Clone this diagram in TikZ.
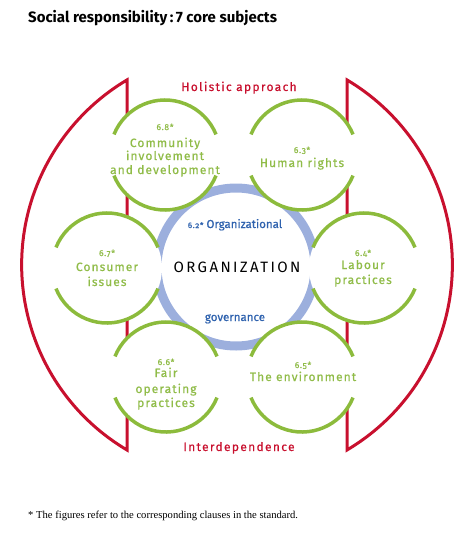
\documentclass[tikz,border=0pt]{standalone}
\usepackage{fontspec}
\setmainfont{Liberation Serif}
\newfontfamily\firasp[LetterSpace=9,FakeBold=0.6]{Fira Sans}
\newfontfamily\firared[LetterSpace=11,FakeBold=0.6]{Fira Sans}
\newfontfamily\firaorg[LetterSpace=16]{Fira Sans}
\newfontfamily\firanum[Numbers=OldStyle,LetterSpace=8,FakeBold=0.4]{Fira Sans}
\newfontfamily\firab[FakeBold=0.8]{Fira Sans}
\newfontfamily\firat{Fira Sans}
\definecolor{isored}{HTML}{C8102E}
\definecolor{isogreen}{HTML}{8CBB3C}
\definecolor{isogtext}{HTML}{90BC48}
\definecolor{isoring}{HTML}{9CAFDD}
\definecolor{isoblue}{HTML}{2F62AE}
\tikzset{
  redshape/.style={draw=isored, line width=3pt, line join=miter},
  ringline/.style={draw=isoring, line width=9pt},
  disk/.style={circle, fill=white, minimum size=110pt, inner sep=0pt},
  garc/.style={draw=isogreen, line width=3.5pt},
  glbl/.style={anchor=base, inner sep=0pt, text=isogtext, font=\firasp\fontsize{12}{14}\selectfont},
  gnum/.style={anchor=base, inner sep=0pt, text=isogtext, font=\firanum\fontsize{8.5}{9}\selectfont},
  rlbl/.style={anchor=base, inner sep=0pt, text=isored, font=\firared\fontsize{12}{14}\selectfont},
  blbl/.style={anchor=base, inner sep=0pt, text=isoblue, font=\firab\fontsize{11.5}{13}\selectfont},
}
\newcommand{\gcirc}[2]{%
  \node[disk] (#1) at #2 {};
  \draw[garc] ([shift={(202:55)}]#1.center) arc[start angle=202, end angle=338, radius=55];
  \draw[garc] ([shift={(22:55)}]#1.center) arc[start angle=22, end angle=158, radius=55];
}
\begin{document}
\begin{tikzpicture}[x=1pt,y=-1pt]
\useasboundingbox (0,0) rectangle (474,536);
\coordinate (C) at (237,265);
% red shapes
\coordinate (lt) at (127,80);
\coordinate (lb) at (127,450);
\coordinate (rt) at (347,80);
\coordinate (rb) at (347,450);
\draw[redshape] (lt) -- (lb) arc[start angle=120.7, end angle=239.3, radius=215.2] -- cycle;
\draw[redshape] (rt) -- (rb) arc[start angle=59.3, end angle=-59.3, radius=215.2] -- cycle;
% ring
\node[circle, inner sep=0pt, minimum size=158pt] (ring) at (236,267) {};
\draw[ringline] (ring.center) circle (79);
% green circles
\gcirc{c68}{(165,155)}
\gcirc{c63}{(302,155)}
\gcirc{c67}{(107,268)}
\gcirc{c64}{(364,268)}
\gcirc{c66}{(166,377)}
\gcirc{c65}{(302,377)}
% green labels
\node[gnum] (n68) at (165,130) {6.8*};
\node[glbl] (t68a) at (165,147) {Community};
\node[glbl] (t68b) at (165,160) {involvement};
\node[glbl] (t68c) at (165,174) {and development};
\node[gnum] (n63) at (302,153) {6.3*};
\node[glbl] (t63) at (302,167) {Human rights};
\node[gnum] (n67) at (107,256) {6.7*};
\node[glbl] (t67a) at (107,271) {Consumer};
\node[glbl] (t67b) at (107,286) {issues};
\node[gnum] (n64) at (363,256) {6.4*};
\node[glbl] (t64a) at (363,269) {Labour};
\node[glbl] (t64b) at (363,284) {practices};
\node[gnum] (n66) at (166,365) {6.6*};
\node[glbl] (t66a) at (166,377) {Fair};
\node[glbl] (t66b) at (166,393) {operating};
\node[glbl] (t66c) at (166,407) {practices};
\node[gnum] (n65) at (303,368) {6.5*};
\node[glbl] (t65) at (303,381) {The environment};
% centre
\node[anchor=base, inner sep=0pt, font=\firaorg\fontsize{15}{17}\selectfont] (org) at (237,272) {ORGANIZATION};
\node[blbl] (og) at (235,228) {{\firanum\fontsize{8}{9}\selectfont 6.2*} Organizational};
\node[blbl] (gov) at (235,321) {governance};
% red labels
\node[rlbl] (hol) at (239,91) {Holistic approach};
\node[rlbl] (int) at (239,451) {Interdependence};
% title & footnote
\node[anchor=base west, inner sep=0pt, font=\firat\bfseries\fontsize{15}{17}\selectfont] (title) at (28,22) {Social responsibility\,:\,7 core subjects};
\node[anchor=base west, inner sep=0pt, font=\fontsize{10.6}{12}\selectfont] (foot) at (28,518) {* The figures refer to the corresponding clauses in the standard.};
\end{tikzpicture}
\end{document}
